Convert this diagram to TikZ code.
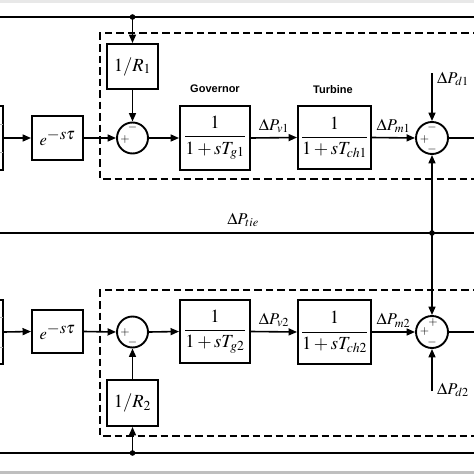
\documentclass[tikz,border=0pt]{standalone}
\usepackage{mathptmx}
\usepackage{fontspec}
\setmainfont{Liberation Serif}
\newfontfamily\labfont{Liberation Sans}
\usetikzlibrary{arrows.meta}
\begin{document}
\begin{tikzpicture}[x=1pt,y=-1pt,
  blk/.style={draw, line width=1.9pt, inner sep=0pt, font=\fontsize{18.5}{22}\selectfont},
  sumc/.style={draw, circle, line width=1.9pt, minimum size=31pt, inner sep=0pt},
  conn/.style={line width=1.6pt},
  arr/.style={conn, -{Triangle[length=8.5pt,width=7pt]}},
  dbox/.style={line width=1.5pt, dash pattern=on 7.5pt off 4pt},
  lbl/.style={font=\fontsize{16.5}{18}\selectfont, inner sep=0pt},
  sgn/.style={font=\fontsize{12}{12}\selectfont, inner sep=0pt},
  tag/.style={font=\labfont\bfseries\fontsize{11}{13}\selectfont, inner sep=0pt},
  stub/.style={line width=0.8pt, gray!60}
]
\useasboundingbox (0,0) rectangle (474,474);
\fill[gray!18] (0,0) rectangle (474,2.5);
\fill[gray!50] (0,471) rectangle (474,474);

% dashed boxes
\draw[dbox] (480,33) -- (100,33) -- (100,179) -- (480,179);
\draw[dbox] (480,290) -- (100,290) -- (100,436) -- (480,436);

% ---------- area 1 ----------
\node[blk, minimum width=10pt, minimum height=64pt] (lb1) at (-2,138) {};
\draw[stub] (0,124) -- (2.5,124);
\draw[stub] (0,152) -- (2.5,152);
\node[blk, minimum width=51pt, minimum height=44pt, font=\fontsize{16.5}{20}\selectfont] (d1) at (57.5,138) {$e^{\textstyle -s\tau}$};
\node[sumc] (s1) at (132.5,138) {};
\node[blk, minimum width=51pt, minimum height=45pt] (r1) at (132.5,66.5) {$1/R_1$};
\node[blk, minimum width=70pt, minimum height=64pt] (g1) at (215,138) {$\displaystyle\frac{1}{1+sT_{g1}}$};
\node[blk, minimum width=73pt, minimum height=63pt] (t1) at (334.5,137.5) {$\displaystyle\frac{1}{1+sT_{ch1}}$};
\node[sumc, minimum size=32pt] (s2) at (432,138) {};
\node[tag] (gov1) at (215,89) {Governor};
\node[tag] (tur1) at (333,90) {Turbine};

\coordinate (topL) at (-2,17);
\coordinate (topR) at (476,17);
\coordinate (topJ) at (132.5,17);
\coordinate (pd1) at (432,73);
\coordinate (out1) at (476,138);

\draw[conn] (topL) -- (topR);
\fill (topJ) circle (2.8);
\draw[arr] (topJ) -- (r1.north);
\draw[arr] (r1.south) -- (s1.north);
\draw[arr] (lb1.east) -- (d1.west);
\draw[arr] (d1.east) -- (s1.west);
\draw[arr] (s1.east) -- (g1.west);
\draw[arr] (g1.east) -- node[lbl, above=4pt] (pv1) {$\Delta P_{v1}$} (t1.west);
\draw[arr] (t1.east) -- node[lbl, above=4pt] (pm1) {$\Delta P_{m1}$} (s2.west);
\draw[conn] (s2.east) -- (out1);
\draw[arr] (pd1) -- (s2.north);
\node[lbl, anchor=west] (pd1l) at (437,79) {$\Delta P_{d1}$};

\node[sgn] at (125,139.5) {$+$};
\node[sgn] at (132.5,127) {$-$};
\node[sgn] at (424.5,140) {$+$};
\node[sgn] at (432,127) {$-$};
\node[sgn] at (432,149) {$-$};

% ---------- tie line ----------
\coordinate (tieL) at (-2,233);
\coordinate (tieR) at (476,233);
\coordinate (tieJ) at (432,233);
\draw[conn] (tieL) -- (tieR);
\fill (tieJ) circle (2.8);
\node[lbl] (ptie) at (243,220) {$\Delta P_{tie}$};

% ---------- area 2 ----------
\node[blk, minimum width=10pt, minimum height=64pt] (lb2) at (-2,332) {};
\draw[stub] (0,317) -- (2.5,317);
\draw[stub] (0,347) -- (2.5,347);
\node[blk, minimum width=51pt, minimum height=43pt, font=\fontsize{16.5}{20}\selectfont] (d2) at (57.5,331.5) {$e^{\textstyle -s\tau}$};
\node[sumc] (s3) at (132.5,332) {};
\node[blk, minimum width=51pt, minimum height=46pt] (r2) at (132.5,403) {$1/R_2$};
\node[blk, minimum width=70pt, minimum height=63pt] (g2) at (215,331.5) {$\displaystyle\frac{1}{1+sT_{g2}}$};
\node[blk, minimum width=73pt, minimum height=64pt] (t2) at (334.5,332) {$\displaystyle\frac{1}{1+sT_{ch2}}$};
\node[sumc, minimum size=32pt] (s4) at (432,332) {};

\coordinate (botL) at (-2,453);
\coordinate (botR) at (476,453);
\coordinate (botJ) at (132.5,453);
\coordinate (pd2) at (432,391);
\coordinate (out2) at (476,332);

\draw[conn] (botL) -- (botR);
\fill (botJ) circle (2.8);
\draw[arr] (botJ) -- (r2.south);
\draw[arr] (r2.north) -- (s3.south);
\draw[arr] (lb2.east) -- (d2.west);
\draw[arr] (d2.east) -- (s3.west);
\draw[arr] (s3.east) -- (g2.west);
\draw[arr] (g2.east) -- node[lbl, above=4pt] (pv2) {$\Delta P_{v2}$} (t2.west);
\draw[arr] (t2.east) -- node[lbl, above=4pt] (pm2) {$\Delta P_{m2}$} (s4.west);
\draw[conn] (s4.east) -- (out2);
\draw[arr] (pd2) -- (s4.south);
\node[lbl, anchor=west] (pd2l) at (437,390) {$\Delta P_{d2}$};

\draw[arr] (tieJ) -- (s2.south);
\draw[arr] (tieJ) -- (s4.north);

\node[sgn] at (125,332.5) {$+$};
\node[sgn] at (132.5,342.5) {$-$};
\node[sgn] at (433,322) {$+$};
\node[sgn] at (424.5,331.5) {$+$};
\node[sgn] at (432,342) {$-$};
\end{tikzpicture}
\end{document}
